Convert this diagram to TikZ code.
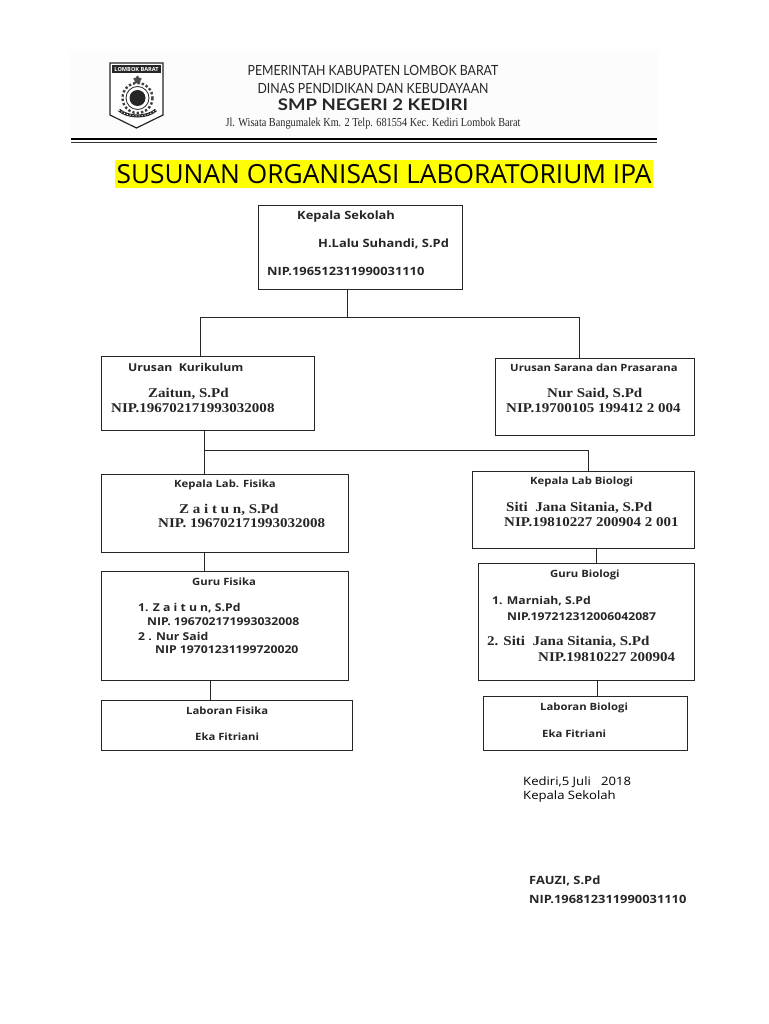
\documentclass[tikz,border=0pt]{standalone}
\usepackage{fontspec}
\setmainfont{Liberation Serif}[FakeStretch=1.12]
\setsansfont{Open Sans}[FakeStretch=1.13]
\newfontfamily\headfont{Lato}[FakeStretch=.88]
\newfontfamily\kopfont{Lato}[FakeStretch=1.16]
\newfontfamily\alamatfont{Liberation Serif}[FakeStretch=.84]
\newfontfamily\judulfont{Open Sans}
\usetikzlibrary{calc,positioning,shapes.geometric}
\definecolor{titleyellow}{rgb}{1.0, 1.0, 0.0}
\tikzset{
    orgbox/.style={draw=black!85, line width=0.9pt, fill=white, inner sep=0pt, anchor=north west},
    lbl/.style={anchor=west, inner sep=0pt, yshift=-1pt, font=\sffamily\bfseries\fontsize{11.4}{13}\selectfont, black!85},
    lblg/.style={lbl, font=\sffamily\bfseries\fontsize{10.8}{13}\selectfont},
    lblh/.style={lbl, font=\sffamily\bfseries\fontsize{10}{12}\selectfont},
    nmt/.style={anchor=west, inner sep=0pt, yshift=-1pt, font=\rmfamily\bfseries\fontsize{13.4}{15}\selectfont, black!85},
    sig/.style={lbl, font=\sffamily\fontsize{11.6}{13}\selectfont, black},
    headline/.style={inner sep=0pt, black!85},
    wire/.style={draw=black!85, line width=0.9pt}
}
\begin{document}
\begin{tikzpicture}[x=1pt,y=-1pt]
        \useasboundingbox (0,0) rectangle (768,1024);

        % letterhead
        \fill[black!1] (70,52) rectangle (658,137);
        \draw[black, line width=2pt] (71,139) -- (657,139);
        \draw[black!80, line width=0.8pt] (71,142.7) -- (657,142.7);

        % logo
        \draw[black!85, line width=1.2pt, fill=white] (110,63) -- (163,63) -- (163,115) -- (136.5,128) -- (110,115) -- cycle;
        \fill[black!85] (112,65) rectangle (161,73);
        \node[inner sep=0pt, white, font=\judulfont\bfseries\fontsize{5.6}{6}\selectfont] (logotext) at (136.5,69) {LOMBOK BARAT};
        \node[star, star points=5, fill=black!70, minimum size=9pt, inner sep=0pt] (logostar) at (137.5,80) {};
        \draw[black!75, line width=2.4pt, dotted] (137.5,98) circle (15);
        \draw[black!85, line width=0.8pt] (137.5,98) circle (11.5);
        \fill[black!85] (137.5,98) circle (8);
        \draw[black!85, line width=3pt] (119,110) .. controls (128,118) and (147,118) .. (156,110);
        \draw[white, line width=1pt, dotted] (119,110) .. controls (128,118) and (147,118) .. (156,110);

        \node[headline, font=\headfont\fontsize{14}{15}\selectfont] (head1) at (373,70) {PEMERINTAH KABUPATEN LOMBOK BARAT};
        \node[headline, font=\headfont\fontsize{14}{15}\selectfont] (head2) at (373,88) {DINAS PENDIDIKAN DAN KEBUDAYAAN};
        \node[headline, font=\kopfont\bfseries\fontsize{16}{17}\selectfont] (head3) at (373,105) {SMP NEGERI 2 KEDIRI};
        \node[headline, font=\alamatfont\fontsize{12.2}{13}\selectfont] (head4) at (373,124) {Jl. Wisata Bangumalek Km. 2 Telp. 681554 Kec. Kediri Lombok Barat};

        % title
        \node[anchor=center, fill=titleyellow, inner xsep=1.5pt, inner ysep=0pt, minimum height=28pt, font=\judulfont\fontsize{26.3}{28}\selectfont] (judul) at (384,174) {SUSUNAN ORGANISASI LABORATORIUM IPA};

        % boxes
        \node[orgbox, minimum width=204pt, minimum height=84pt] (kepsek) at (258,205) {};
        \node[orgbox, minimum width=213pt, minimum height=74pt] (kurikulum) at (101,356) {};
        \node[orgbox, minimum width=199pt, minimum height=77pt] (sarana) at (495,358) {};
        \node[orgbox, minimum width=247pt, minimum height=78pt] (labfisika) at (101,474) {};
        \node[orgbox, minimum width=222pt, minimum height=77pt] (labbiologi) at (472,471) {};
        \node[orgbox, minimum width=247pt, minimum height=109pt] (gurufisika) at (101,571) {};
        \node[orgbox, minimum width=216pt, minimum height=117pt] (gurubiologi) at (478,563) {};
        \node[orgbox, minimum width=251pt, minimum height=50pt] (labfis) at (101,700) {};
        \node[orgbox, minimum width=204pt, minimum height=54pt] (labbio) at (483,696) {};

        % connectors
        \coordinate (busL) at (200,317);
        \coordinate (busM) at (347,317);
        \coordinate (busR) at (579,317);
        \coordinate (cabL) at (204,450);
        \coordinate (cabR) at (588,450);
        \coordinate (fisA) at (204,560);
        \coordinate (bioA) at (596,555);
        \coordinate (fisB) at (210,690);
        \coordinate (bioB) at (597,688);
        \draw[wire] (busM |- kepsek.south) -- (busM);
        \draw[wire] (busL |- kurikulum.north) -- (busL) -- (busR) -- (busR |- sarana.north);
        \draw[wire] (cabL |- kurikulum.south) -- (cabL |- labfisika.north);
        \draw[wire] (cabL) -- (cabR) -- (cabR |- labbiologi.north);
        \draw[wire] (fisA |- labfisika.south) -- (fisA |- gurufisika.north);
        \draw[wire] (bioA |- labbiologi.south) -- (bioA |- gurubiologi.north);
        \draw[wire] (fisB |- gurufisika.south) -- (fisB |- labfis.north);
        \draw[wire] (bioB |- gurubiologi.south) -- (bioB |- labbio.north);

        % texts
        \node[lbl] (t1) at (297,216) {Kepala Sekolah};
        \node[lbl] (t2) at (318,243) {H.Lalu Suhandi, S.Pd};
        \node[lbl] (t3) at (267,270) {NIP.196512311990031110};

        \node[lblg] (t4) at (128,366) {Urusan\ \ Kurikulum};
        \node[nmt] (t5) at (148,393) {Zaitun, S.Pd};
        \node[nmt] (t6) at (111,407) {NIP.196702171993032008};

        \node[lblh] (t7) at (510,367) {Urusan Sarana dan Prasarana};
        \node[nmt] (t8) at (547,393) {Nur Said, S.Pd};
        \node[nmt] (t9) at (506,407) {NIP.19700105 199412 2 004};

        \node[lblh] (t10) at (174,484) {Kepala Lab. Fisika};
        \node[nmt] (t11) at (179,509) {Z a i t u n, S.Pd};
        \node[nmt] (t12) at (158,522) {NIP. 196702171993032008};

        \node[lblh] (t13) at (530,481) {Kepala Lab Biologi};
        \node[nmt] (t14) at (506,507) {Siti\ \ Jana Sitania, S.Pd};
        \node[nmt] (t15) at (504,521) {NIP.19810227 200904 2 001};

        \node[lblh] (t16) at (192,581) {Guru Fisika};
        \node[lblg] (t17) at (138,607) {1. Z a i t u n, S.Pd};
        \node[lblg] (t18) at (147,621) {NIP. 196702171993032008};
        \node[lblg] (t19) at (138,635) {2 . Nur Said};
        \node[lblg] (t20) at (155,649) {NIP 19701231199720020};

        \node[lblh] (t21) at (550,574) {Guru Biologi};
        \node[lblg] (t22) at (492,600) {1. Marniah, S.Pd};
        \node[lblg] (t23) at (507,616) {NIP.197212312006042087};
        \node[nmt] (t24) at (487,641) {2. Siti\ \ Jana Sitania, S.Pd};
        \node[nmt] (t25) at (538,656) {NIP.19810227 200904};

        \node[lblh] (t26) at (186,710) {Laboran Fisika};
        \node[lblh] (t27) at (195,736) {Eka Fitriani};

        \node[lblh] (t28) at (540,707) {Laboran Biologi};
        \node[lblh] (t29) at (542,733) {Eka Fitriani};

        % signature
        \node[sig] (s1) at (523,781) {Kediri,5 Juli\ \ \ 2018};
        \node[sig] (s2) at (523,795) {Kepala Sekolah};
        \node[lbl] (s3) at (529,880) {FAUZI, S.Pd};
        \node[lbl] (s4) at (529,898) {NIP.196812311990031110};
    \end{tikzpicture}
\end{document}
